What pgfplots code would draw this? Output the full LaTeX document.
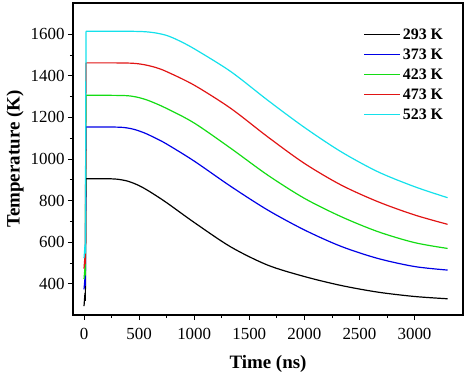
\documentclass[border=0pt]{standalone}
\usepackage{fontspec}
\setmainfont{Liberation Serif}
\usepackage{pgfplots}
\pgfplotsset{compat=1.18}
\definecolor{myblue}{RGB}{0,0,230}
\definecolor{mygreen}{RGB}{20,220,20}
\definecolor{myred}{RGB}{225,20,20}
\definecolor{mycyan}{RGB}{20,225,235}
\begin{document}
\begin{tikzpicture}
\begin{axis}[
  name=ax,
  width=390bp, height=312bp, scale only axis,
  xmin=-100, xmax=3440, ymin=250, ymax=1750,
  xtick={0,500,...,3000}, ytick={400,600,...,1600},
  minor x tick num=1, minor y tick num=1,
  tick align=outside, xtick pos=bottom, ytick pos=left,
  major tick length=5bp, minor tick length=3bp,
  every tick/.style={black, line width=0.8bp},
  axis line style={line width=1.2bp},
  /pgf/number format/assume math mode=true,
  /pgf/number format/set thousands separator={},
  tick label style={font=\fontsize{17}{17}\selectfont},
  xticklabel style={yshift=-5bp},
  xlabel={\textbf{Time (ns)}},
  ylabel={\textbf{Temperature (K)}},
  label style={font=\fontsize{19}{19}\selectfont},
  xlabel style={yshift=-9bp},
  legend style={draw=none, fill=none, inner sep=0pt, at={(0.744,0.925)}, anchor=north west,
    font=\fontsize{16}{16}\selectfont\bfseries, row sep=4bp},
  legend cell align=left,
  legend image code/.code={\draw[#1, line width=1.5bp] (0bp,0bp) -- (36bp,0bp);},
  every axis plot/.append style={line width=1.2bp},
]
% initial spikes (t < 20 ns)
\addplot[black, forget plot] coordinates {(0,293) (6,335) (12,318) (18,905)};
\addplot[myblue, forget plot] coordinates {(0,373) (6,410) (12,390) (18,1154)};
\addplot[mygreen, forget plot] coordinates {(0,423) (6,460) (12,440) (18,1306)};
\addplot[myred, forget plot] coordinates {(0,473) (6,515) (12,495) (18,1462)};
\addplot[black, smooth, tension=0.5] coordinates {
(18,905) (200,905) (300,903) (400,893) (500,872) (600,842) (750,790)
(1000,695) (1333,577) (1666,490) (2000,435) (2333,392) (2666,360) (3000,339) (3300,328)};
\addlegendentry{293 K}
\addplot[myblue, smooth, tension=0.5] coordinates {
(18,1154) (200,1154) (350,1152) (450,1143) (550,1125) (650,1100) (750,1072)
(1000,990) (1333,868) (1666,755) (2000,659) (2333,580) (2666,522) (3000,483) (3300,466)};
\addlegendentry{373 K}
\addplot[mygreen, smooth, tension=0.5] coordinates {
(18,1306) (250,1306) (400,1304) (500,1295) (600,1278) (750,1243)
(1000,1173) (1333,1051) (1666,923) (2000,811) (2333,723) (2666,651) (3000,598) (3300,570)};
\addlegendentry{423 K}
\addplot[myred, smooth, tension=0.5] coordinates {
(18,1462) (300,1462) (450,1460) (550,1453) (650,1440) (750,1420)
(1000,1355) (1333,1243) (1666,1107) (2000,979) (2333,875) (2666,795) (3000,731) (3300,686)};
\addlegendentry{473 K}
\addplot[mycyan, forget plot] coordinates {(0,523) (6,565) (12,545) (18,1614)};
\addplot[mycyan, smooth, tension=0.5] coordinates {
(18,1614) (400,1614) (550,1612) (650,1606) (750,1594) (850,1572)
(1000,1530) (1333,1420) (1666,1283) (2000,1152) (2333,1035) (2666,939) (3000,867) (3300,814)};
\addlegendentry{523 K}
\end{axis}
\pgfresetboundingbox
\path[use as bounding box] ([xshift=-73bp,yshift=-60bp]ax.south west) rectangle ([xshift=11bp,yshift=3bp]ax.north east);
\end{tikzpicture}
\end{document}
